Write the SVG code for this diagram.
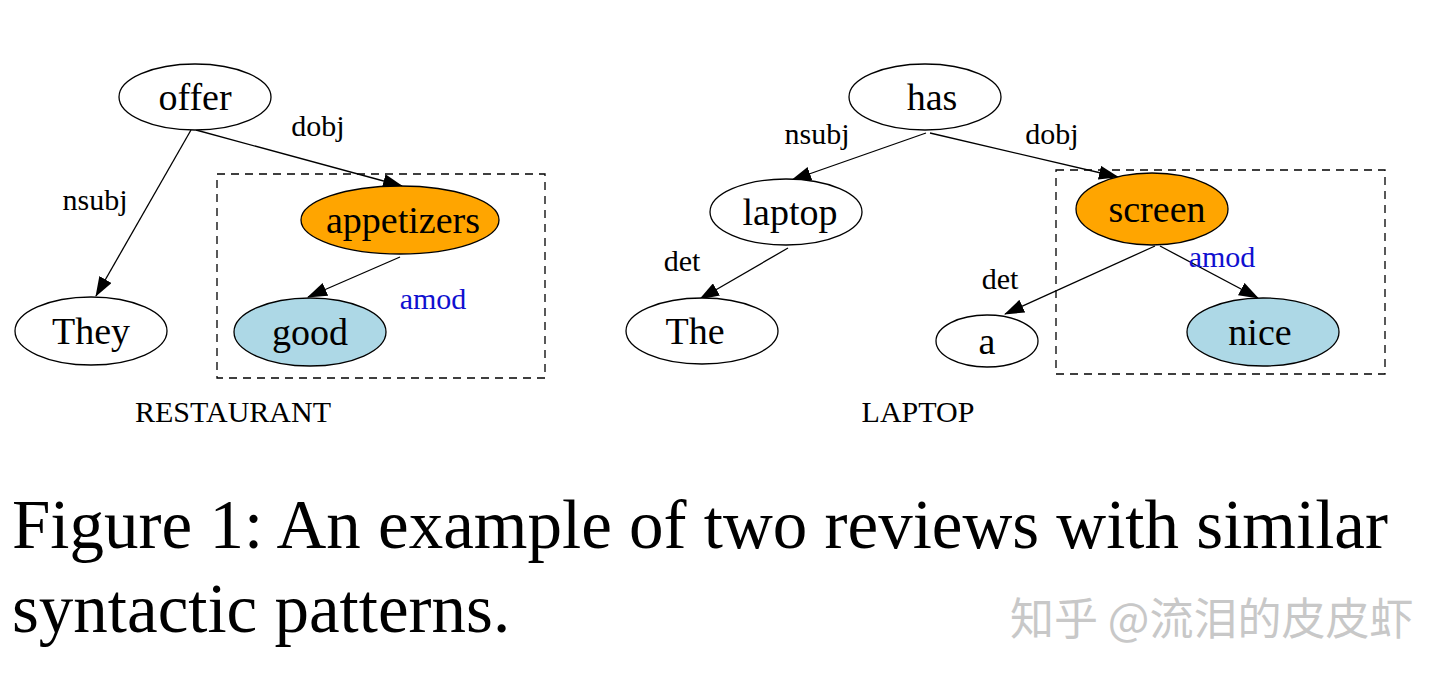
<svg xmlns="http://www.w3.org/2000/svg" width="1444" height="678" viewBox="0 0 1444 678">
<style>
.n ellipse{stroke:#000;stroke-width:1.3}
.n text{font-size:38px;text-anchor:middle}
.lbl{font-size:30px;text-anchor:middle}
.blue{fill:#1010d0}
.box{fill:none;stroke:#000;stroke-width:1.3;stroke-dasharray:8,6}
#edges line{stroke:#000;stroke-width:1.3;marker-end:url(#ah)}
</style>
<defs><marker id="ah" markerWidth="20" markerHeight="14" refX="19" refY="7" orient="auto" markerUnits="userSpaceOnUse" viewBox="0 0 20 14"><path d="M0,0L20,7L0,14z"/></marker></defs>
<rect width="1444" height="678" fill="#fff"/>
<rect class="box" x="217" y="174" width="328" height="204"/>
<rect class="box" x="1056" y="170" width="329" height="204"/>
<g id="edges">
<line x1="191" y1="130" x2="96" y2="296"/>
<line x1="196" y1="130" x2="402" y2="186"/>
<line x1="400" y1="257" x2="308" y2="297"/>
<line x1="926" y1="133" x2="792" y2="180"/>
<line x1="930" y1="133" x2="1118" y2="177"/>
<line x1="788" y1="248" x2="700" y2="299"/>
<line x1="1155" y1="246" x2="1005" y2="314"/>
<line x1="1160" y1="246" x2="1258" y2="298"/>
</g>
<g id="offer" class="n"><ellipse cx="195" cy="97" rx="76" ry="33" fill="#fff"/><text x="195" y="110" font-family="Liberation Serif, serif">offer</text></g>
<g id="appetizers" class="n"><ellipse cx="400" cy="220" rx="99" ry="34" fill="#ffa500"/><text x="403" y="233" font-family="Liberation Serif, serif">appetizers</text></g>
<g id="They" class="n"><ellipse cx="91" cy="331" rx="76" ry="34" fill="#fff"/><text x="91" y="344" font-family="Liberation Serif, serif">They</text></g>
<g id="good" class="n"><ellipse cx="310" cy="332" rx="76" ry="34" fill="#add8e6"/><text x="310" y="345" font-family="Liberation Serif, serif">good</text></g>
<g id="has" class="n"><ellipse cx="925" cy="97" rx="76" ry="33" fill="#fff"/><text x="932" y="110" font-family="Liberation Serif, serif">has</text></g>
<g id="laptop" class="n"><ellipse cx="786" cy="212" rx="76" ry="33" fill="#fff"/><text x="790" y="225" font-family="Liberation Serif, serif">laptop</text></g>
<g id="screen" class="n"><ellipse cx="1152" cy="209" rx="76" ry="36" fill="#ffa500"/><text x="1157" y="222" font-family="Liberation Serif, serif">screen</text></g>
<g id="The" class="n"><ellipse cx="702" cy="331" rx="76" ry="33" fill="#fff"/><text x="695" y="344" font-family="Liberation Serif, serif">The</text></g>
<g id="a" class="n"><ellipse cx="987" cy="341" rx="51" ry="26" fill="#fff"/><text x="987" y="354" font-family="Liberation Serif, serif">a</text></g>
<g id="nice" class="n"><ellipse cx="1263" cy="332" rx="76" ry="34" fill="#add8e6"/><text x="1260" y="345" font-family="Liberation Serif, serif">nice</text></g>
<g id="labels" font-family="Liberation Serif, serif">
<text class="lbl" x="318" y="136" font-family="Liberation Serif, serif">dobj</text>
<text class="lbl" x="95" y="210" font-family="Liberation Serif, serif">nsubj</text>
<text class="lbl blue" x="433" y="309" font-family="Liberation Serif, serif">amod</text>
<text class="lbl" x="817" y="144" font-family="Liberation Serif, serif">nsubj</text>
<text class="lbl" x="1052" y="144" font-family="Liberation Serif, serif">dobj</text>
<text class="lbl" x="682" y="271" font-family="Liberation Serif, serif">det</text>
<text class="lbl" x="1000" y="289" font-family="Liberation Serif, serif">det</text>
<text class="lbl blue" x="1222" y="267" font-family="Liberation Serif, serif">amod</text>
<text class="lbl" x="233" y="422" font-family="Liberation Serif, serif">RESTAURANT</text>
<text class="lbl" x="918" y="422" font-family="Liberation Serif, serif">LAPTOP</text>
</g>
<text x="12" y="548" font-size="69" font-family="Liberation Serif, serif">Figure 1: An example of two reviews with similar</text>
<text x="12" y="632" font-size="69" font-family="Liberation Serif, serif">syntactic patterns.</text>
<text x="1010" y="635" font-family="Noto Sans CJK SC, sans-serif" font-size="44" fill="#c8c8c8">知乎 @流泪的皮皮虾</text>
</svg>
